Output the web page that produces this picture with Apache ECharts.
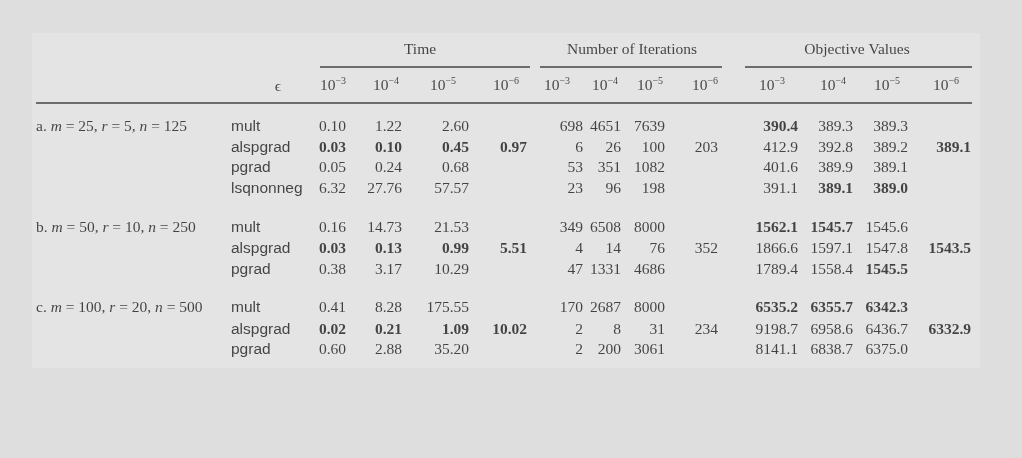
<!DOCTYPE html>
<html><head><meta charset="utf-8">
<script src="https://cdn.jsdelivr.net/npm/echarts@6/dist/echarts.min.js"></script>
<style>html,body{margin:0;background:#dedede}#main{width:1022px;height:458px}</style>
</head><body><div id="main"></div>
<script>
// table contents
var groups = ['Time', 'Number of Iterations', 'Objective Values'];
var epsilons = ['-3', '-4', '-5', '-6'];
var problems = [
  ['a. ', 'm', ' = 25, ', 'r', ' = 5, ', 'n', ' = 125'],
  ['b. ', 'm', ' = 50, ', 'r', ' = 10, ', 'n', ' = 250'],
  ['c. ', 'm', ' = 100, ', 'r', ' = 20, ', 'n', ' = 500']
];
var methods = [
  ['mult', 'alspgrad', 'pgrad', 'lsqnonneg'],
  ['mult', 'alspgrad', 'pgrad'],
  ['mult', 'alspgrad', 'pgrad']
];
var timeVals = [
  [['0.10','1.22','2.60',''],['0.03','0.10','0.45','0.97'],['0.05','0.24','0.68',''],['6.32','27.76','57.57','']],
  [['0.16','14.73','21.53',''],['0.03','0.13','0.99','5.51'],['0.38','3.17','10.29','']],
  [['0.41','8.28','175.55',''],['0.02','0.21','1.09','10.02'],['0.60','2.88','35.20','']]
];
var iterVals = [
  [['698','4651','7639',''],['6','26','100','203'],['53','351','1082',''],['23','96','198','']],
  [['349','6508','8000',''],['4','14','76','352'],['47','1331','4686','']],
  [['170','2687','8000',''],['2','8','31','234'],['2','200','3061','']]
];
var objVals = [
  [['390.4','389.3','389.3',''],['412.9','392.8','389.2','389.1'],['401.6','389.9','389.1',''],['391.1','389.1','389.0','']],
  [['1562.1','1545.7','1545.6',''],['1866.6','1597.1','1547.8','1543.5'],['1789.4','1558.4','1545.5','']],
  [['6535.2','6355.7','6342.3',''],['9198.7','6958.6','6436.7','6332.9'],['8141.1','6838.7','6375.0','']]
];
// bold cells: [block,row,group,col]
var boldCells = [
  [0,0,2,0],[0,1,0,0],[0,1,0,1],[0,1,0,2],[0,1,0,3],[0,1,2,3],[0,3,2,1],[0,3,2,2],
  [1,0,2,0],[1,0,2,1],[1,1,0,0],[1,1,0,1],[1,1,0,2],[1,1,0,3],[1,1,2,3],[1,2,2,2],
  [2,0,2,0],[2,0,2,1],[2,0,2,2],[2,1,0,0],[2,1,0,1],[2,1,0,2],[2,1,0,3],[2,1,2,3]
];

// layout
var colRight = [[346,402,469,527],[583,621,665,718],[798,853,908,971]];
var colHead = [[333,386,443,506],[557,605,650,705],[772,833,887,946]];
var groupCenter = [420,632,857];
var groupRule = [[320,530],[540,722],[745,972]];
var rowY = [[127,148,168,189],[228,249,270],[308,330,350]];
var serif = '"Liberation Serif", "DejaVu Serif", serif';
var sans = '"Liberation Sans", Arial, sans-serif';
var ink = '#1a1a1a';

var texts = [];
function isBold(b,r,g,c){
  for (var i=0;i<boldCells.length;i++){var k=boldCells[i];if(k[0]==b&&k[1]==r&&k[2]==g&&k[3]==c)return true;}
  return false;
}
groups.forEach(function(g,gi){
  texts.push({value:[groupCenter[gi],50],text:g,align:'center',font:serif});
  epsilons.forEach(function(e,ei){
    texts.push({value:[colHead[gi][ei],86],text:'10{s|\u2212'+e.slice(1)+'}',align:'center',font:serif});
  });
});
texts.push({value:[278,87],text:'\u03f5',align:'center',font:serif});
var allVals = [timeVals, iterVals, objVals];
problems.forEach(function(p,b){
  var s='';
  p.forEach(function(seg,i){ s += (i%2==1) ? '{i|'+seg+'}' : seg; });
  texts.push({value:[36,rowY[b][0]],text:s,align:'left',font:serif});
  methods[b].forEach(function(m,r){
    texts.push({value:[231,rowY[b][r]],text:m,align:'left',font:sans});
    allVals.forEach(function(vals,g){
      vals[b][r].forEach(function(v,c){
        if(!v) return;
        texts.push({value:[colRight[g][c],rowY[b][r]],text:v,align:'right',font:serif,bold:isBold(b,r,g,c)});
      });
    });
  });
});

var rules = groupRule.map(function(r){return [r[0],r[1],67];});
rules.push([36,972,103]);

var chart = echarts.init(document.getElementById('main'));
chart.setOption({
  backgroundColor:'#dedede',
  animation:false,
  grid:{left:32,right:42,top:33,bottom:90,show:true,backgroundColor:'#e4e4e4',borderWidth:0},
  xAxis:{type:'value',min:32,max:980,show:false},
  yAxis:{type:'value',min:33,max:368,inverse:true,show:false},
  series:[
    {
      type:'scatter',symbolSize:0,
      data:texts.map(function(t){
        return {value:t.value,label:{show:true,position:'inside',formatter:t.text,align:t.align,
          verticalAlign:'middle',fontFamily:t.font,fontSize:15.5,color:ink,
          fontWeight:t.bold?'bold':'normal',
          rich:{
            s:{fontSize:10,fontFamily:serif,color:ink,padding:[0,0,10,0]},
            i:{fontStyle:'italic',fontFamily:serif,fontSize:15.5,color:ink}
          }}};
      })
    },
    {
      type:'custom',
      data:rules,
      renderItem:function(params,api){
        var a=api.coord([api.value(0),api.value(2)]);
        var b=api.coord([api.value(1),api.value(2)]);
        return {type:'line',shape:{x1:a[0],y1:a[1],x2:b[0],y2:b[1]},style:{stroke:'#444',lineWidth:1.6}};
      }
    }
  ]
});
</script></body></html>
